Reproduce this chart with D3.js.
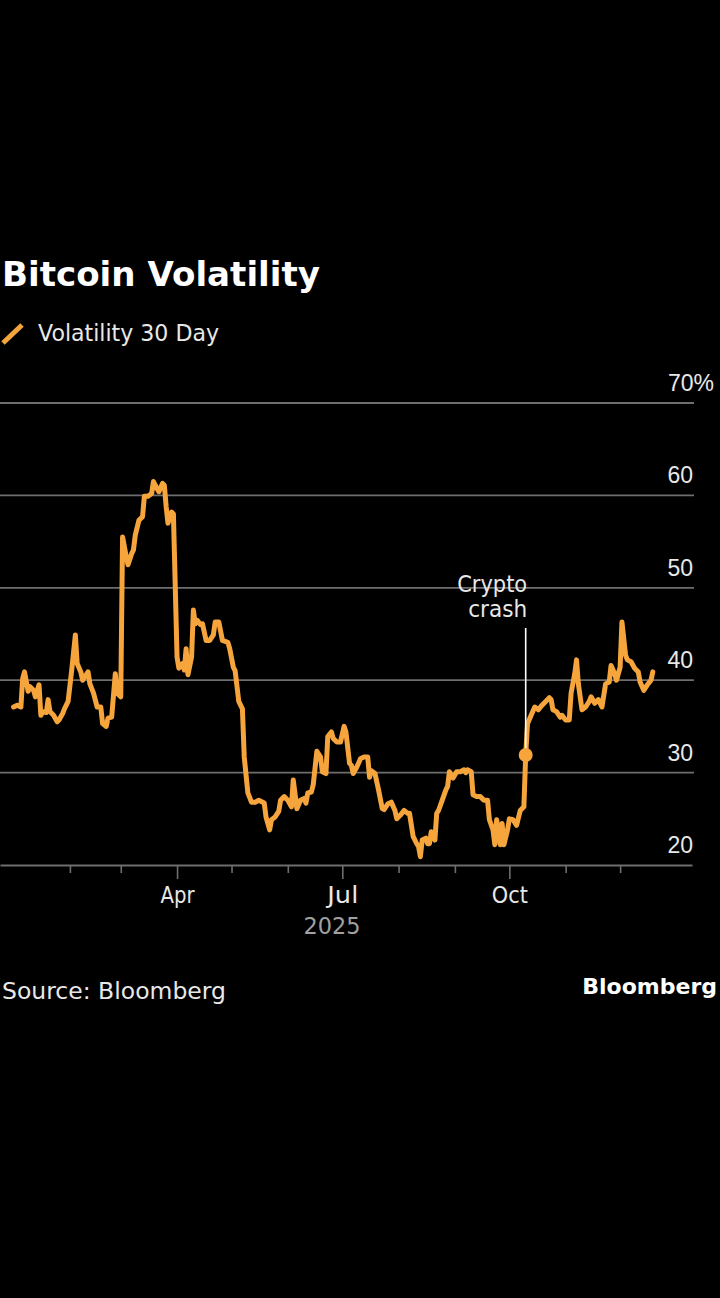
<!DOCTYPE html>
<html><head><meta charset="utf-8">
<script src="https://cdn.jsdelivr.net/npm/d3@7"></script>
<style>html,body{margin:0;padding:0;background:#000;} svg{display:block;}</style>
</head><body>
<svg id="chart" width="720" height="1298"></svg>
<script>
const titleText = "Bitcoin Volatility";
const seriesName = "Volatility 30 Day";
// days since 2025-01-01
const dayIndex = [0,2,4,5,6,8,9,11,12,14,15,16,18,19,20,22,24,25,27,28,30,32,34,35,37,38,41,42,44,46,48,49,51,52,54,56,57,59,60,62,63,65,66,67,69,71,72,74,76,77,78,80,82,83,84,85,87,88,90,91,93,94,95,96,98,99,100,101,103,104,106,108,110,111,113,115,118,119,121,122,124,126,127,129,131,133,135,138,139,141,142,144,146,147,149,151,153,154,156,158,160,161,162,164,165,167,169,170,172,173,175,176,178,180,182,183,185,186,187,189,191,193,195,196,197,199,201,203,204,206,208,210,211,213,215,217,218,220,222,223,224,225,227,228,229,230,232,233,234,236,238,239,240,242,244,246,248,249,250,252,253,255,257,259,261,262,264,265,266,268,269,270,272,273,275,277,279,281,282,283,285,287,289,291,293,295,296,297,299,301,302,304,306,307,309,310,311,313,315,317,318,320,322,324,326,328,329,331,332,334,335,337,338,340,342,344,345,347,349,351,352];
const volatility = [37.1,37.3,37.1,40.2,40.9,38.8,39.3,38.9,38.2,39.5,
36.2,36.6,36.5,37.9,36.6,36.2,35.5,35.7,36.4,36.9,
37.7,41.1,44.9,41.8,40.9,40.0,40.9,39.6,38.6,37.1,
37.1,35.3,35.0,35.9,36.0,40.7,38.6,38.2,55.5,53.4,
52.5,53.7,54.1,55.7,57.3,57.7,59.9,59.9,60.2,61.5,
61.1,60.4,61.3,61.1,58.8,57.0,58.2,58.0,42.5,41.3,
41.8,41.1,43.4,40.6,42.5,47.6,46.1,46.5,46.0,46.1,
44.3,44.3,44.9,46.3,46.3,44.3,44.1,43.4,41.4,41.0,
37.7,36.9,31.7,27.8,26.8,26.8,27.0,26.7,25.2,23.8,
24.9,25.2,25.8,27.0,27.4,27.0,26.3,29.2,26.1,27.0,
27.2,26.7,27.8,27.9,28.7,32.3,31.7,30.1,29.9,33.9,
34.4,33.7,33.3,33.3,35.0,34.4,31.0,30.8,29.9,30.6,
31.5,31.7,31.7,29.5,30.2,29.9,28.1,26.1,26.0,26.6,
26.8,25.9,25.0,25.4,25.9,25.6,25.6,23.1,22.3,22.0,
20.9,22.7,22.9,22.3,22.3,23.6,22.7,25.6,25.9,27.0,
28.1,28.5,30.1,29.4,30.1,30.1,30.3,30.0,30.3,30.1,
27.6,27.4,27.4,27.0,27.0,24.9,23.8,22.2,24.9,22.2,
24.5,22.2,23.8,25.0,24.9,24.3,25.9,26.3,31.9,35.3,
36.2,37.1,36.8,37.3,37.7,38.1,37.9,36.8,36.6,36.0,
36.2,35.7,35.7,38.6,40.7,42.2,39.6,36.8,37.1,37.7,
38.2,37.5,37.9,37.1,39.6,39.8,41.6,40.7,40.0,41.4,
46.3,42.7,42.2,42.0,41.3,40.9,39.8,38.9,39.5,40.0,
40.9];
const yTicks = [20,30,40,50,60,70];
const monthTicks = ["2025-02-01","2025-03-01","2025-04-01","2025-05-01","2025-06-01","2025-07-01","2025-08-01","2025-09-01","2025-10-01","2025-11-01","2025-12-01"];
const monthLabels = {"2025-04-01":"Apr","2025-07-01":"Jul","2025-10-01":"Oct"};
const yearLabel = "2025";
const annotationLines = ["Crypto","crash"];
const annotationDay = 282;
const sourceText = "Source: Bloomberg";
const brandText = "Bloomberg";

const ORANGE = "#f6a43c";
const GRID = "#6e6e6e";
const FONT = "'DejaVu Sans', sans-serif";
const NUMFONT = "'Liberation Sans', Arial, sans-serif";

const svg = d3.select("#chart");
svg.append("rect").attr("width",720).attr("height",1298).attr("fill","#000");

const parse = d3.timeParse("%Y-%m-%d");
const base = new Date(2025,0,1);
const data = dayIndex.map((d,i)=>({date:d3.timeDay.offset(base,d), v:volatility[i], day:d}));

const x = d3.scaleTime().domain([new Date(2024,11,24,12), new Date(2026,0,9,14)]).range([0,692]);
const y = d3.scaleLinear().domain([20,70]).range([865,403]);

function fit(sel, w){
  sel.each(function(){
    const L = this.getComputedTextLength();
    if (Math.abs(L-w) > 0.5) d3.select(this).attr("textLength", w).attr("lengthAdjust","spacingAndGlyphs");
  });
}

// title
svg.append("text").attr("x",2).attr("y",286).text(titleText)
  .attr("font-family",FONT).attr("font-weight","bold").attr("font-size",34).attr("fill","#fff")
  .call(fit,318);

// legend
svg.append("line").attr("x1",3).attr("y1",343).attr("x2",22).attr("y2",325)
  .attr("stroke",ORANGE).attr("stroke-width",5);
svg.append("text").attr("x",38).attr("y",341).text(seriesName)
  .attr("font-family",FONT).attr("font-size",23).attr("fill","#e8e8e8")
  .call(fit,181);

// gridlines
svg.append("g").selectAll("line").data(yTicks.filter(d=>d!==20)).join("line")
  .attr("x1",0).attr("x2",694).attr("y1",d=>y(d)).attr("y2",d=>y(d))
  .attr("stroke",GRID).attr("stroke-width",1.8);

// y labels
const yAxis = d3.axisLeft(y).tickValues(yTicks).tickSize(0).tickPadding(0)
  .tickFormat(d=> d===70 ? d+"%" : d);
const gy = svg.append("g").attr("transform","translate(693,0)").call(yAxis);
gy.select(".domain").remove();
gy.selectAll("text").attr("dy",null).attr("y",-12.5).attr("x",d=> d===70 ? 21 : 0)
  .attr("font-family",NUMFONT).attr("font-size",23).attr("fill","#e8e8e8");

// x axis
const tickDates = monthTicks.map(parse);
const xAxis = d3.axisBottom(x).tickValues(tickDates).tickSize(8).tickSizeOuter(0)
  .tickFormat(d=> monthLabels[d3.timeFormat("%Y-%m-%d")(d)] || "");
const gx = svg.append("g").attr("transform","translate(0,865)").call(xAxis);
gx.select(".domain").attr("stroke",GRID).attr("stroke-width",2);
gx.selectAll(".tick line").attr("stroke",GRID).attr("stroke-width",1.6)
  .attr("y2", d=> monthLabels[d3.timeFormat("%Y-%m-%d")(d)] ? 14 : 8);
gx.selectAll(".tick text").attr("dy",null).attr("y",38)
  .attr("font-family",FONT).attr("font-size",23).attr("fill","#e8e8e8")
  .each(function(d){
    const lab = monthLabels[d3.timeFormat("%Y-%m-%d")(d)];
    if (lab) d3.select(this).call(fit, lab==="Oct"?36:(lab==="Apr"?34:31));
  });
svg.append("text").attr("x",332).attr("y",934).attr("text-anchor","middle").text(yearLabel)
  .attr("font-family",FONT).attr("font-size",23).attr("fill","#a0a0a0").call(fit,57);

// series line
const line = d3.line().x(d=>x(d.date)).y(d=>y(d.v));
svg.append("path").datum(data).attr("d",line).attr("fill","none")
  .attr("stroke",ORANGE).attr("stroke-width",5).attr("stroke-linejoin","round").attr("stroke-linecap","round");

// annotation
const ann = data.find(d=>d.day===annotationDay);
const ax = x(ann.date), ay = y(ann.v);
svg.append("line").attr("x1",ax).attr("x2",ax).attr("y1",628).attr("y2",ay)
  .attr("stroke","#fff").attr("stroke-width",1.6);
svg.append("circle").attr("cx",ax).attr("cy",ay).attr("r",7).attr("fill",ORANGE);
svg.append("g").selectAll("text").data(annotationLines).join("text")
  .attr("x",ax+1.5).attr("y",(d,i)=>591.5+i*25.8).attr("text-anchor","end").text(d=>d)
  .attr("font-family",FONT).attr("font-size",23).attr("fill","#e8e8e8")
  .each(function(d,i){ d3.select(this).call(fit, i===0?70:59); });

// footer
svg.append("text").attr("x",2).attr("y",999).text(sourceText)
  .attr("font-family",FONT).attr("font-size",23).attr("fill","#e8e8e8").call(fit,224);
svg.append("text").attr("x",717).attr("y",994).attr("text-anchor","end").text(brandText)
  .attr("font-family",FONT).attr("font-weight","bold").attr("font-size",22).attr("fill","#fff").call(fit,135);
</script>
</body></html>
